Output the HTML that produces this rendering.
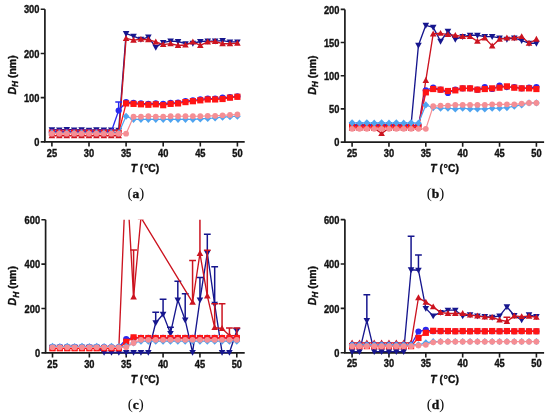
<!DOCTYPE html><html><head><meta charset="utf-8"><style>html,body{margin:0;padding:0;background:#fff;width:550px;height:415px;overflow:hidden}svg{display:block}text{font-family:"Liberation Sans",Arial,sans-serif;font-weight:bold;fill:#111;stroke:#111;stroke-width:0.35px}.cap{font-family:"Liberation Serif","Times New Roman",serif;font-weight:bold}</style></head><body>
<svg width="550" height="415" viewBox="0 0 550 415">
<clipPath id="clipa"><rect x="44.9" y="9.2" width="201.8" height="138.7"/></clipPath>
<path d="M44.9 9.2V142.75 M44.05 141.9H244.7" stroke="#1c1c1c" stroke-width="1.7" fill="none"/>
<text transform="matrix(0.93 0 0 1 39.4 146.1)" font-size="10" text-anchor="end">0</text>
<text transform="matrix(0.93 0 0 1 39.4 101.87)" font-size="10" text-anchor="end">100</text>
<text transform="matrix(0.93 0 0 1 39.4 57.63)" font-size="10" text-anchor="end">200</text>
<text transform="matrix(0.93 0 0 1 39.4 13.4)" font-size="10" text-anchor="end">300</text>
<text transform="matrix(0.93 0 0 1 51.9 156.5)" font-size="10" text-anchor="middle">25</text>
<text transform="matrix(0.93 0 0 1 89 156.5)" font-size="10" text-anchor="middle">30</text>
<text transform="matrix(0.93 0 0 1 126.1 156.5)" font-size="10" text-anchor="middle">35</text>
<text transform="matrix(0.93 0 0 1 163.2 156.5)" font-size="10" text-anchor="middle">40</text>
<text transform="matrix(0.93 0 0 1 200.3 156.5)" font-size="10" text-anchor="middle">45</text>
<text transform="matrix(0.93 0 0 1 237.4 156.5)" font-size="10" text-anchor="middle">50</text>
<path d="M40.7 141.9H44.9 M40.7 97.67H44.9 M40.7 53.43H44.9 M40.7 9.2H44.9 M51.9 141.9V146.5 M89 141.9V146.5 M126.1 141.9V146.5 M163.2 141.9V146.5 M200.3 141.9V146.5 M237.4 141.9V146.5" stroke="#1c1c1c" stroke-width="1.6" fill="none"/>
<g clip-path="url(#clipa)">
<path d="M51.9 129.74 L59.32 129.96 L66.74 129.51 L74.16 129.96 L81.58 129.74 L89 130.18 L96.42 129.74 L103.84 129.96 L111.26 129.96 L118.68 130.18 L126.1 33.53 L133.52 36.18 L140.94 39.28 L148.36 37.07 L155.78 47.24 L163.2 42.38 L170.62 41.05 L178.04 41.49 L185.46 43.7 L192.88 43.26 L200.3 41.49 L207.72 41.05 L215.14 41.05 L222.56 40.61 L229.98 41.93 L237.4 41.93" fill="none" stroke="#16168e" stroke-width="1.35" stroke-linejoin="round"/>
<path d="M51.9 133.14L55.2 127.24L48.6 127.24Z" fill="#16168e"/>
<path d="M59.32 133.36L62.62 127.46L56.02 127.46Z" fill="#16168e"/>
<path d="M66.74 132.91L70.04 127.01L63.44 127.01Z" fill="#16168e"/>
<path d="M74.16 133.36L77.46 127.46L70.86 127.46Z" fill="#16168e"/>
<path d="M81.58 133.14L84.88 127.24L78.28 127.24Z" fill="#16168e"/>
<path d="M89 133.58L92.3 127.68L85.7 127.68Z" fill="#16168e"/>
<path d="M96.42 133.14L99.72 127.24L93.12 127.24Z" fill="#16168e"/>
<path d="M103.84 133.36L107.14 127.46L100.54 127.46Z" fill="#16168e"/>
<path d="M111.26 133.36L114.56 127.46L107.96 127.46Z" fill="#16168e"/>
<path d="M118.68 133.58L121.98 127.68L115.38 127.68Z" fill="#16168e"/>
<path d="M126.1 36.93L129.4 31.03L122.8 31.03Z" fill="#16168e"/>
<path d="M133.52 39.58L136.82 33.68L130.22 33.68Z" fill="#16168e"/>
<path d="M140.94 42.68L144.24 36.78L137.64 36.78Z" fill="#16168e"/>
<path d="M148.36 40.47L151.66 34.57L145.06 34.57Z" fill="#16168e"/>
<path d="M155.78 50.64L159.08 44.74L152.48 44.74Z" fill="#16168e"/>
<path d="M163.2 45.77L166.5 39.88L159.9 39.88Z" fill="#16168e"/>
<path d="M170.62 44.45L173.92 38.55L167.32 38.55Z" fill="#16168e"/>
<path d="M178.04 44.89L181.34 38.99L174.74 38.99Z" fill="#16168e"/>
<path d="M185.46 47.1L188.76 41.2L182.16 41.2Z" fill="#16168e"/>
<path d="M192.88 46.66L196.18 40.76L189.58 40.76Z" fill="#16168e"/>
<path d="M200.3 44.89L203.6 38.99L197 38.99Z" fill="#16168e"/>
<path d="M207.72 44.45L211.02 38.55L204.42 38.55Z" fill="#16168e"/>
<path d="M215.14 44.45L218.44 38.55L211.84 38.55Z" fill="#16168e"/>
<path d="M222.56 44.01L225.86 38.11L219.26 38.11Z" fill="#16168e"/>
<path d="M229.98 45.33L233.28 39.43L226.68 39.43Z" fill="#16168e"/>
<path d="M237.4 45.33L240.7 39.43L234.1 39.43Z" fill="#16168e"/>
<path d="M51.9 135.71 L59.32 135.71 L66.74 135.71 L74.16 135.71 L81.58 135.71 L89 135.71 L96.42 135.71 L103.84 135.71 L111.26 135.71 L118.68 135.71 L126.1 38.39 L133.52 40.16 L140.94 39.28 L148.36 39.72 L155.78 41.93 L163.2 44.59 L170.62 43.7 L178.04 45.47 L185.46 45.03 L192.88 41.93 L200.3 45.47 L207.72 41.93 L215.14 41.49 L222.56 43.7 L229.98 43.7 L237.4 43.26" fill="none" stroke="#cc1420" stroke-width="1.35" stroke-linejoin="round"/>
<path d="M51.9 132.31L55.2 138.21L48.6 138.21Z" fill="#cc1420"/>
<path d="M59.32 132.31L62.62 138.21L56.02 138.21Z" fill="#cc1420"/>
<path d="M66.74 132.31L70.04 138.21L63.44 138.21Z" fill="#cc1420"/>
<path d="M74.16 132.31L77.46 138.21L70.86 138.21Z" fill="#cc1420"/>
<path d="M81.58 132.31L84.88 138.21L78.28 138.21Z" fill="#cc1420"/>
<path d="M89 132.31L92.3 138.21L85.7 138.21Z" fill="#cc1420"/>
<path d="M96.42 132.31L99.72 138.21L93.12 138.21Z" fill="#cc1420"/>
<path d="M103.84 132.31L107.14 138.21L100.54 138.21Z" fill="#cc1420"/>
<path d="M111.26 132.31L114.56 138.21L107.96 138.21Z" fill="#cc1420"/>
<path d="M118.68 132.31L121.98 138.21L115.38 138.21Z" fill="#cc1420"/>
<path d="M126.1 34.99L129.4 40.89L122.8 40.89Z" fill="#cc1420"/>
<path d="M133.52 36.76L136.82 42.66L130.22 42.66Z" fill="#cc1420"/>
<path d="M140.94 35.88L144.24 41.78L137.64 41.78Z" fill="#cc1420"/>
<path d="M148.36 36.32L151.66 42.22L145.06 42.22Z" fill="#cc1420"/>
<path d="M155.78 38.53L159.08 44.43L152.48 44.43Z" fill="#cc1420"/>
<path d="M163.2 41.19L166.5 47.09L159.9 47.09Z" fill="#cc1420"/>
<path d="M170.62 40.3L173.92 46.2L167.32 46.2Z" fill="#cc1420"/>
<path d="M178.04 42.07L181.34 47.97L174.74 47.97Z" fill="#cc1420"/>
<path d="M185.46 41.63L188.76 47.53L182.16 47.53Z" fill="#cc1420"/>
<path d="M192.88 38.53L196.18 44.43L189.58 44.43Z" fill="#cc1420"/>
<path d="M200.3 42.07L203.6 47.97L197 47.97Z" fill="#cc1420"/>
<path d="M207.72 38.53L211.02 44.43L204.42 44.43Z" fill="#cc1420"/>
<path d="M215.14 38.09L218.44 43.99L211.84 43.99Z" fill="#cc1420"/>
<path d="M222.56 40.3L225.86 46.2L219.26 46.2Z" fill="#cc1420"/>
<path d="M229.98 40.3L233.28 46.2L226.68 46.2Z" fill="#cc1420"/>
<path d="M237.4 39.86L240.7 45.76L234.1 45.76Z" fill="#cc1420"/>
<path d="M51.9 131.73 L59.32 131.73 L66.74 131.73 L74.16 131.73 L81.58 131.73 L89 131.73 L96.42 131.73 L103.84 131.73 L111.26 131.73 L118.68 110.49 L126.1 102.09 L133.52 102.97 L140.94 103.42 L148.36 103.86 L155.78 103.42 L163.2 103.86 L170.62 102.97 L178.04 102.53 L185.46 101.21 L192.88 100.32 L200.3 99.44 L207.72 98.55 L215.14 98.55 L222.56 97.67 L229.98 97.22 L237.4 96.34" fill="none" stroke="#2828f0" stroke-width="1.3" stroke-linejoin="round"/>
<path d="M118.68 110.49V102.09 M115.28 102.09H122.08" stroke="#2828f0" stroke-width="1.5" fill="none"/>
<circle cx="51.9" cy="131.73" r="3.1" fill="#2828f0"/>
<circle cx="59.32" cy="131.73" r="3.1" fill="#2828f0"/>
<circle cx="66.74" cy="131.73" r="3.1" fill="#2828f0"/>
<circle cx="74.16" cy="131.73" r="3.1" fill="#2828f0"/>
<circle cx="81.58" cy="131.73" r="3.1" fill="#2828f0"/>
<circle cx="89" cy="131.73" r="3.1" fill="#2828f0"/>
<circle cx="96.42" cy="131.73" r="3.1" fill="#2828f0"/>
<circle cx="103.84" cy="131.73" r="3.1" fill="#2828f0"/>
<circle cx="111.26" cy="131.73" r="3.1" fill="#2828f0"/>
<circle cx="118.68" cy="110.49" r="3.1" fill="#2828f0"/>
<circle cx="126.1" cy="102.09" r="3.1" fill="#2828f0"/>
<circle cx="133.52" cy="102.97" r="3.1" fill="#2828f0"/>
<circle cx="140.94" cy="103.42" r="3.1" fill="#2828f0"/>
<circle cx="148.36" cy="103.86" r="3.1" fill="#2828f0"/>
<circle cx="155.78" cy="103.42" r="3.1" fill="#2828f0"/>
<circle cx="163.2" cy="103.86" r="3.1" fill="#2828f0"/>
<circle cx="170.62" cy="102.97" r="3.1" fill="#2828f0"/>
<circle cx="178.04" cy="102.53" r="3.1" fill="#2828f0"/>
<circle cx="185.46" cy="101.21" r="3.1" fill="#2828f0"/>
<circle cx="192.88" cy="100.32" r="3.1" fill="#2828f0"/>
<circle cx="200.3" cy="99.44" r="3.1" fill="#2828f0"/>
<circle cx="207.72" cy="98.55" r="3.1" fill="#2828f0"/>
<circle cx="215.14" cy="98.55" r="3.1" fill="#2828f0"/>
<circle cx="222.56" cy="97.67" r="3.1" fill="#2828f0"/>
<circle cx="229.98" cy="97.22" r="3.1" fill="#2828f0"/>
<circle cx="237.4" cy="96.34" r="3.1" fill="#2828f0"/>
<path d="M51.9 132.61 L59.32 132.61 L66.74 132.61 L74.16 132.61 L81.58 132.61 L89 132.61 L96.42 132.61 L103.84 132.61 L111.26 132.61 L118.68 132.61 L126.1 103.42 L133.52 103.86 L140.94 104.3 L148.36 104.74 L155.78 104.3 L163.2 105.19 L170.62 103.86 L178.04 103.42 L185.46 102.09 L192.88 101.21 L200.3 100.32 L207.72 99.44 L215.14 99.44 L222.56 98.99 L229.98 97.67 L237.4 96.78" fill="none" stroke="#ff1414" stroke-width="1.3" stroke-linejoin="round"/>
<rect x="48.8" y="129.51" width="6.2" height="6.2" fill="#ff1414"/>
<rect x="56.22" y="129.51" width="6.2" height="6.2" fill="#ff1414"/>
<rect x="63.64" y="129.51" width="6.2" height="6.2" fill="#ff1414"/>
<rect x="71.06" y="129.51" width="6.2" height="6.2" fill="#ff1414"/>
<rect x="78.48" y="129.51" width="6.2" height="6.2" fill="#ff1414"/>
<rect x="85.9" y="129.51" width="6.2" height="6.2" fill="#ff1414"/>
<rect x="93.32" y="129.51" width="6.2" height="6.2" fill="#ff1414"/>
<rect x="100.74" y="129.51" width="6.2" height="6.2" fill="#ff1414"/>
<rect x="108.16" y="129.51" width="6.2" height="6.2" fill="#ff1414"/>
<rect x="115.58" y="129.51" width="6.2" height="6.2" fill="#ff1414"/>
<rect x="123" y="100.32" width="6.2" height="6.2" fill="#ff1414"/>
<rect x="130.42" y="100.76" width="6.2" height="6.2" fill="#ff1414"/>
<rect x="137.84" y="101.2" width="6.2" height="6.2" fill="#ff1414"/>
<rect x="145.26" y="101.64" width="6.2" height="6.2" fill="#ff1414"/>
<rect x="152.68" y="101.2" width="6.2" height="6.2" fill="#ff1414"/>
<rect x="160.1" y="102.09" width="6.2" height="6.2" fill="#ff1414"/>
<rect x="167.52" y="100.76" width="6.2" height="6.2" fill="#ff1414"/>
<rect x="174.94" y="100.32" width="6.2" height="6.2" fill="#ff1414"/>
<rect x="182.36" y="98.99" width="6.2" height="6.2" fill="#ff1414"/>
<rect x="189.78" y="98.11" width="6.2" height="6.2" fill="#ff1414"/>
<rect x="197.2" y="97.22" width="6.2" height="6.2" fill="#ff1414"/>
<rect x="204.62" y="96.34" width="6.2" height="6.2" fill="#ff1414"/>
<rect x="212.04" y="96.34" width="6.2" height="6.2" fill="#ff1414"/>
<rect x="219.46" y="95.89" width="6.2" height="6.2" fill="#ff1414"/>
<rect x="226.88" y="94.57" width="6.2" height="6.2" fill="#ff1414"/>
<rect x="234.3" y="93.68" width="6.2" height="6.2" fill="#ff1414"/>
<path d="M51.9 132.83 L59.32 133.05 L66.74 132.83 L74.16 133.05 L81.58 132.83 L89 133.05 L96.42 132.83 L103.84 133.05 L111.26 132.83 L118.68 133.05 L126.1 116.24 L133.52 119.34 L140.94 119.34 L148.36 119.34 L155.78 119.34 L163.2 119.34 L170.62 119.34 L178.04 119.34 L185.46 119.34 L192.88 119.34 L200.3 118.9 L207.72 118.46 L215.14 118.01 L222.56 117.13 L229.98 116.69 L237.4 116.24" fill="none" stroke="#4ea4f0" stroke-width="1.2" stroke-linejoin="round"/>
<path d="M51.9 129.23L55.3 132.83L51.9 136.43L48.5 132.83Z" fill="#4ea4f0"/>
<path d="M59.32 129.45L62.72 133.05L59.32 136.65L55.92 133.05Z" fill="#4ea4f0"/>
<path d="M66.74 129.23L70.14 132.83L66.74 136.43L63.34 132.83Z" fill="#4ea4f0"/>
<path d="M74.16 129.45L77.56 133.05L74.16 136.65L70.76 133.05Z" fill="#4ea4f0"/>
<path d="M81.58 129.23L84.98 132.83L81.58 136.43L78.18 132.83Z" fill="#4ea4f0"/>
<path d="M89 129.45L92.4 133.05L89 136.65L85.6 133.05Z" fill="#4ea4f0"/>
<path d="M96.42 129.23L99.82 132.83L96.42 136.43L93.02 132.83Z" fill="#4ea4f0"/>
<path d="M103.84 129.45L107.24 133.05L103.84 136.65L100.44 133.05Z" fill="#4ea4f0"/>
<path d="M111.26 129.23L114.66 132.83L111.26 136.43L107.86 132.83Z" fill="#4ea4f0"/>
<path d="M118.68 129.45L122.08 133.05L118.68 136.65L115.28 133.05Z" fill="#4ea4f0"/>
<path d="M126.1 112.64L129.5 116.24L126.1 119.84L122.7 116.24Z" fill="#4ea4f0"/>
<path d="M133.52 115.74L136.92 119.34L133.52 122.94L130.12 119.34Z" fill="#4ea4f0"/>
<path d="M140.94 115.74L144.34 119.34L140.94 122.94L137.54 119.34Z" fill="#4ea4f0"/>
<path d="M148.36 115.74L151.76 119.34L148.36 122.94L144.96 119.34Z" fill="#4ea4f0"/>
<path d="M155.78 115.74L159.18 119.34L155.78 122.94L152.38 119.34Z" fill="#4ea4f0"/>
<path d="M163.2 115.74L166.6 119.34L163.2 122.94L159.8 119.34Z" fill="#4ea4f0"/>
<path d="M170.62 115.74L174.02 119.34L170.62 122.94L167.22 119.34Z" fill="#4ea4f0"/>
<path d="M178.04 115.74L181.44 119.34L178.04 122.94L174.64 119.34Z" fill="#4ea4f0"/>
<path d="M185.46 115.74L188.86 119.34L185.46 122.94L182.06 119.34Z" fill="#4ea4f0"/>
<path d="M192.88 115.74L196.28 119.34L192.88 122.94L189.48 119.34Z" fill="#4ea4f0"/>
<path d="M200.3 115.3L203.7 118.9L200.3 122.5L196.9 118.9Z" fill="#4ea4f0"/>
<path d="M207.72 114.86L211.12 118.46L207.72 122.06L204.32 118.46Z" fill="#4ea4f0"/>
<path d="M215.14 114.41L218.54 118.01L215.14 121.61L211.74 118.01Z" fill="#4ea4f0"/>
<path d="M222.56 113.53L225.96 117.13L222.56 120.73L219.16 117.13Z" fill="#4ea4f0"/>
<path d="M229.98 113.09L233.38 116.69L229.98 120.29L226.58 116.69Z" fill="#4ea4f0"/>
<path d="M237.4 112.64L240.8 116.24L237.4 119.84L234 116.24Z" fill="#4ea4f0"/>
<path d="M51.9 133.72 L59.32 133.72 L66.74 133.72 L74.16 133.72 L81.58 133.72 L89 133.72 L96.42 133.72 L103.84 133.72 L111.26 133.72 L118.68 133.72 L126.1 133.72 L133.52 116.69 L140.94 116.69 L148.36 116.24 L155.78 116.69 L163.2 116.69 L170.62 116.24 L178.04 116.24 L185.46 116.24 L192.88 116.24 L200.3 116.24 L207.72 115.8 L215.14 115.8 L222.56 115.36 L229.98 114.92 L237.4 114.48" fill="none" stroke="#f58e94" stroke-width="1.2" stroke-linejoin="round"/>
<circle cx="51.9" cy="133.72" r="2.9" fill="#f58e94"/>
<circle cx="59.32" cy="133.72" r="2.9" fill="#f58e94"/>
<circle cx="66.74" cy="133.72" r="2.9" fill="#f58e94"/>
<circle cx="74.16" cy="133.72" r="2.9" fill="#f58e94"/>
<circle cx="81.58" cy="133.72" r="2.9" fill="#f58e94"/>
<circle cx="89" cy="133.72" r="2.9" fill="#f58e94"/>
<circle cx="96.42" cy="133.72" r="2.9" fill="#f58e94"/>
<circle cx="103.84" cy="133.72" r="2.9" fill="#f58e94"/>
<circle cx="111.26" cy="133.72" r="2.9" fill="#f58e94"/>
<circle cx="118.68" cy="133.72" r="2.9" fill="#f58e94"/>
<circle cx="126.1" cy="133.72" r="2.9" fill="#f58e94"/>
<circle cx="133.52" cy="116.69" r="2.9" fill="#f58e94"/>
<circle cx="140.94" cy="116.69" r="2.9" fill="#f58e94"/>
<circle cx="148.36" cy="116.24" r="2.9" fill="#f58e94"/>
<circle cx="155.78" cy="116.69" r="2.9" fill="#f58e94"/>
<circle cx="163.2" cy="116.69" r="2.9" fill="#f58e94"/>
<circle cx="170.62" cy="116.24" r="2.9" fill="#f58e94"/>
<circle cx="178.04" cy="116.24" r="2.9" fill="#f58e94"/>
<circle cx="185.46" cy="116.24" r="2.9" fill="#f58e94"/>
<circle cx="192.88" cy="116.24" r="2.9" fill="#f58e94"/>
<circle cx="200.3" cy="116.24" r="2.9" fill="#f58e94"/>
<circle cx="207.72" cy="115.8" r="2.9" fill="#f58e94"/>
<circle cx="215.14" cy="115.8" r="2.9" fill="#f58e94"/>
<circle cx="222.56" cy="115.36" r="2.9" fill="#f58e94"/>
<circle cx="229.98" cy="114.92" r="2.9" fill="#f58e94"/>
<circle cx="237.4" cy="114.48" r="2.9" fill="#f58e94"/>
</g>
<text x="144.95" y="171.9" font-size="10.3" text-anchor="middle"><tspan font-style="italic">T</tspan> (<tspan dx="0.7" font-size="11">°</tspan>C)</text>
<text transform="translate(15.7 74.95) rotate(-90)" font-size="10.5" text-anchor="middle"><tspan font-style="italic">D</tspan><tspan font-style="italic" font-size="8.3" dy="2.7">H</tspan><tspan dy="-2.7"> (nm)</tspan></text>
<text class="cap" x="135.85" y="197.7" font-size="13.5" text-anchor="middle"><tspan font-weight="normal" stroke-width="0" font-size="15">(</tspan>a<tspan font-weight="normal" stroke-width="0" font-size="15">)</tspan></text>
<clipPath id="clipb"><rect x="344.9" y="9.4" width="201.2" height="138.7"/></clipPath>
<path d="M344.9 9.4V142.95 M344.05 142.1H544.1" stroke="#1c1c1c" stroke-width="1.7" fill="none"/>
<text transform="matrix(0.93 0 0 1 339.4 146.3)" font-size="10" text-anchor="end">0</text>
<text transform="matrix(0.93 0 0 1 339.4 113.12)" font-size="10" text-anchor="end">50</text>
<text transform="matrix(0.93 0 0 1 339.4 79.95)" font-size="10" text-anchor="end">100</text>
<text transform="matrix(0.93 0 0 1 339.4 46.77)" font-size="10" text-anchor="end">150</text>
<text transform="matrix(0.93 0 0 1 339.4 13.6)" font-size="10" text-anchor="end">200</text>
<text transform="matrix(0.93 0 0 1 352.1 156.7)" font-size="10" text-anchor="middle">25</text>
<text transform="matrix(0.93 0 0 1 388.96 156.7)" font-size="10" text-anchor="middle">30</text>
<text transform="matrix(0.93 0 0 1 425.82 156.7)" font-size="10" text-anchor="middle">35</text>
<text transform="matrix(0.93 0 0 1 462.68 156.7)" font-size="10" text-anchor="middle">40</text>
<text transform="matrix(0.93 0 0 1 499.54 156.7)" font-size="10" text-anchor="middle">45</text>
<text transform="matrix(0.93 0 0 1 536.4 156.7)" font-size="10" text-anchor="middle">50</text>
<path d="M340.7 142.1H344.9 M340.7 108.92H344.9 M340.7 75.75H344.9 M340.7 42.57H344.9 M340.7 9.4H344.9 M352.1 142.1V146.7 M388.96 142.1V146.7 M425.82 142.1V146.7 M462.68 142.1V146.7 M499.54 142.1V146.7 M536.4 142.1V146.7" stroke="#1c1c1c" stroke-width="1.6" fill="none"/>
<g clip-path="url(#clipb)">
<path d="M352.1 124.85 L359.47 124.85 L366.84 124.85 L374.22 124.85 L381.59 124.85 L388.96 124.85 L396.33 124.85 L403.7 124.85 L411.08 124.85 L418.45 45.23 L425.82 25.32 L433.19 27.31 L440.56 41.25 L447.94 31.3 L455.31 39.26 L462.68 36.6 L470.05 35.28 L477.42 35.28 L484.8 36.6 L492.17 36.6 L499.54 37.93 L506.91 39.26 L514.28 37.93 L521.66 40.58 L529.03 43.24 L536.4 43.24" fill="none" stroke="#16168e" stroke-width="1.35" stroke-linejoin="round"/>
<path d="M352.1 128.25L355.4 122.35L348.8 122.35Z" fill="#16168e"/>
<path d="M359.47 128.25L362.77 122.35L356.17 122.35Z" fill="#16168e"/>
<path d="M366.84 128.25L370.14 122.35L363.54 122.35Z" fill="#16168e"/>
<path d="M374.22 128.25L377.52 122.35L370.92 122.35Z" fill="#16168e"/>
<path d="M381.59 128.25L384.89 122.35L378.29 122.35Z" fill="#16168e"/>
<path d="M388.96 128.25L392.26 122.35L385.66 122.35Z" fill="#16168e"/>
<path d="M396.33 128.25L399.63 122.35L393.03 122.35Z" fill="#16168e"/>
<path d="M403.7 128.25L407 122.35L400.4 122.35Z" fill="#16168e"/>
<path d="M411.08 128.25L414.38 122.35L407.78 122.35Z" fill="#16168e"/>
<path d="M418.45 48.63L421.75 42.73L415.15 42.73Z" fill="#16168e"/>
<path d="M425.82 28.72L429.12 22.82L422.52 22.82Z" fill="#16168e"/>
<path d="M433.19 30.71L436.49 24.81L429.89 24.81Z" fill="#16168e"/>
<path d="M440.56 44.65L443.86 38.75L437.26 38.75Z" fill="#16168e"/>
<path d="M447.94 34.7L451.24 28.8L444.64 28.8Z" fill="#16168e"/>
<path d="M455.31 42.66L458.61 36.76L452.01 36.76Z" fill="#16168e"/>
<path d="M462.68 40L465.98 34.1L459.38 34.1Z" fill="#16168e"/>
<path d="M470.05 38.68L473.35 32.78L466.75 32.78Z" fill="#16168e"/>
<path d="M477.42 38.68L480.72 32.78L474.12 32.78Z" fill="#16168e"/>
<path d="M484.8 40L488.1 34.1L481.5 34.1Z" fill="#16168e"/>
<path d="M492.17 40L495.47 34.1L488.87 34.1Z" fill="#16168e"/>
<path d="M499.54 41.33L502.84 35.43L496.24 35.43Z" fill="#16168e"/>
<path d="M506.91 42.66L510.21 36.76L503.61 36.76Z" fill="#16168e"/>
<path d="M514.28 41.33L517.58 35.43L510.98 35.43Z" fill="#16168e"/>
<path d="M521.66 43.98L524.96 38.08L518.36 38.08Z" fill="#16168e"/>
<path d="M529.03 46.64L532.33 40.74L525.73 40.74Z" fill="#16168e"/>
<path d="M536.4 46.64L539.7 40.74L533.1 40.74Z" fill="#16168e"/>
<path d="M352.1 128.17 L359.47 128.17 L366.84 128.17 L374.22 128.17 L381.59 133.47 L388.96 128.17 L396.33 128.17 L403.7 128.17 L411.08 128.17 L418.45 127.5 L425.82 80.39 L433.19 33.95 L440.56 33.29 L447.94 34.61 L455.31 35.28 L462.68 36.6 L470.05 36.6 L477.42 41.25 L484.8 37.93 L492.17 45.89 L499.54 39.26 L506.91 37.93 L514.28 37.93 L521.66 36.6 L529.03 43.24 L536.4 39.26" fill="none" stroke="#cc1420" stroke-width="1.35" stroke-linejoin="round"/>
<path d="M352.1 124.77L355.4 130.67L348.8 130.67Z" fill="#cc1420"/>
<path d="M359.47 124.77L362.77 130.67L356.17 130.67Z" fill="#cc1420"/>
<path d="M366.84 124.77L370.14 130.67L363.54 130.67Z" fill="#cc1420"/>
<path d="M374.22 124.77L377.52 130.67L370.92 130.67Z" fill="#cc1420"/>
<path d="M381.59 130.07L384.89 135.97L378.29 135.97Z" fill="#cc1420"/>
<path d="M388.96 124.77L392.26 130.67L385.66 130.67Z" fill="#cc1420"/>
<path d="M396.33 124.77L399.63 130.67L393.03 130.67Z" fill="#cc1420"/>
<path d="M403.7 124.77L407 130.67L400.4 130.67Z" fill="#cc1420"/>
<path d="M411.08 124.77L414.38 130.67L407.78 130.67Z" fill="#cc1420"/>
<path d="M418.45 124.1L421.75 130L415.15 130Z" fill="#cc1420"/>
<path d="M425.82 76.99L429.12 82.89L422.52 82.89Z" fill="#cc1420"/>
<path d="M433.19 30.55L436.49 36.45L429.89 36.45Z" fill="#cc1420"/>
<path d="M440.56 29.89L443.86 35.79L437.26 35.79Z" fill="#cc1420"/>
<path d="M447.94 31.21L451.24 37.11L444.64 37.11Z" fill="#cc1420"/>
<path d="M455.31 31.88L458.61 37.78L452.01 37.78Z" fill="#cc1420"/>
<path d="M462.68 33.2L465.98 39.1L459.38 39.1Z" fill="#cc1420"/>
<path d="M470.05 33.2L473.35 39.1L466.75 39.1Z" fill="#cc1420"/>
<path d="M477.42 37.85L480.72 43.75L474.12 43.75Z" fill="#cc1420"/>
<path d="M484.8 34.53L488.1 40.43L481.5 40.43Z" fill="#cc1420"/>
<path d="M492.17 42.49L495.47 48.39L488.87 48.39Z" fill="#cc1420"/>
<path d="M499.54 35.86L502.84 41.76L496.24 41.76Z" fill="#cc1420"/>
<path d="M506.91 34.53L510.21 40.43L503.61 40.43Z" fill="#cc1420"/>
<path d="M514.28 34.53L517.58 40.43L510.98 40.43Z" fill="#cc1420"/>
<path d="M521.66 33.2L524.96 39.1L518.36 39.1Z" fill="#cc1420"/>
<path d="M529.03 39.84L532.33 45.74L525.73 45.74Z" fill="#cc1420"/>
<path d="M536.4 35.86L539.7 41.76L533.1 41.76Z" fill="#cc1420"/>
<path d="M352.1 125.51 L359.47 125.51 L366.84 125.51 L374.22 125.51 L381.59 125.51 L388.96 125.51 L396.33 125.51 L403.7 125.51 L411.08 125.51 L418.45 125.51 L425.82 90.35 L433.19 87.69 L440.56 89.68 L447.94 93 L455.31 89.68 L462.68 88.36 L470.05 88.36 L477.42 89.68 L484.8 87.03 L492.17 89.02 L499.54 85.7 L506.91 87.03 L514.28 87.03 L521.66 88.36 L529.03 87.69 L536.4 87.03" fill="none" stroke="#2828f0" stroke-width="1.3" stroke-linejoin="round"/>
<circle cx="352.1" cy="125.51" r="3.1" fill="#2828f0"/>
<circle cx="359.47" cy="125.51" r="3.1" fill="#2828f0"/>
<circle cx="366.84" cy="125.51" r="3.1" fill="#2828f0"/>
<circle cx="374.22" cy="125.51" r="3.1" fill="#2828f0"/>
<circle cx="381.59" cy="125.51" r="3.1" fill="#2828f0"/>
<circle cx="388.96" cy="125.51" r="3.1" fill="#2828f0"/>
<circle cx="396.33" cy="125.51" r="3.1" fill="#2828f0"/>
<circle cx="403.7" cy="125.51" r="3.1" fill="#2828f0"/>
<circle cx="411.08" cy="125.51" r="3.1" fill="#2828f0"/>
<circle cx="418.45" cy="125.51" r="3.1" fill="#2828f0"/>
<circle cx="425.82" cy="90.35" r="3.1" fill="#2828f0"/>
<circle cx="433.19" cy="87.69" r="3.1" fill="#2828f0"/>
<circle cx="440.56" cy="89.68" r="3.1" fill="#2828f0"/>
<circle cx="447.94" cy="93" r="3.1" fill="#2828f0"/>
<circle cx="455.31" cy="89.68" r="3.1" fill="#2828f0"/>
<circle cx="462.68" cy="88.36" r="3.1" fill="#2828f0"/>
<circle cx="470.05" cy="88.36" r="3.1" fill="#2828f0"/>
<circle cx="477.42" cy="89.68" r="3.1" fill="#2828f0"/>
<circle cx="484.8" cy="87.03" r="3.1" fill="#2828f0"/>
<circle cx="492.17" cy="89.02" r="3.1" fill="#2828f0"/>
<circle cx="499.54" cy="85.7" r="3.1" fill="#2828f0"/>
<circle cx="506.91" cy="87.03" r="3.1" fill="#2828f0"/>
<circle cx="514.28" cy="87.03" r="3.1" fill="#2828f0"/>
<circle cx="521.66" cy="88.36" r="3.1" fill="#2828f0"/>
<circle cx="529.03" cy="87.69" r="3.1" fill="#2828f0"/>
<circle cx="536.4" cy="87.03" r="3.1" fill="#2828f0"/>
<path d="M352.1 126.84 L359.47 126.84 L366.84 126.84 L374.22 126.84 L381.59 126.84 L388.96 126.84 L396.33 126.84 L403.7 126.84 L411.08 126.84 L418.45 126.84 L425.82 92.34 L433.19 89.02 L440.56 89.68 L447.94 91.01 L455.31 90.35 L462.68 88.36 L470.05 88.36 L477.42 89.68 L484.8 89.02 L492.17 88.36 L499.54 87.69 L506.91 86.37 L514.28 87.69 L521.66 88.36 L529.03 88.36 L536.4 89.02" fill="none" stroke="#ff1414" stroke-width="1.3" stroke-linejoin="round"/>
<rect x="349" y="123.74" width="6.2" height="6.2" fill="#ff1414"/>
<rect x="356.37" y="123.74" width="6.2" height="6.2" fill="#ff1414"/>
<rect x="363.74" y="123.74" width="6.2" height="6.2" fill="#ff1414"/>
<rect x="371.12" y="123.74" width="6.2" height="6.2" fill="#ff1414"/>
<rect x="378.49" y="123.74" width="6.2" height="6.2" fill="#ff1414"/>
<rect x="385.86" y="123.74" width="6.2" height="6.2" fill="#ff1414"/>
<rect x="393.23" y="123.74" width="6.2" height="6.2" fill="#ff1414"/>
<rect x="400.6" y="123.74" width="6.2" height="6.2" fill="#ff1414"/>
<rect x="407.98" y="123.74" width="6.2" height="6.2" fill="#ff1414"/>
<rect x="415.35" y="123.74" width="6.2" height="6.2" fill="#ff1414"/>
<rect x="422.72" y="89.24" width="6.2" height="6.2" fill="#ff1414"/>
<rect x="430.09" y="85.92" width="6.2" height="6.2" fill="#ff1414"/>
<rect x="437.46" y="86.58" width="6.2" height="6.2" fill="#ff1414"/>
<rect x="444.84" y="87.91" width="6.2" height="6.2" fill="#ff1414"/>
<rect x="452.21" y="87.25" width="6.2" height="6.2" fill="#ff1414"/>
<rect x="459.58" y="85.26" width="6.2" height="6.2" fill="#ff1414"/>
<rect x="466.95" y="85.26" width="6.2" height="6.2" fill="#ff1414"/>
<rect x="474.32" y="86.58" width="6.2" height="6.2" fill="#ff1414"/>
<rect x="481.7" y="85.92" width="6.2" height="6.2" fill="#ff1414"/>
<rect x="489.07" y="85.26" width="6.2" height="6.2" fill="#ff1414"/>
<rect x="496.44" y="84.59" width="6.2" height="6.2" fill="#ff1414"/>
<rect x="503.81" y="83.27" width="6.2" height="6.2" fill="#ff1414"/>
<rect x="511.18" y="84.59" width="6.2" height="6.2" fill="#ff1414"/>
<rect x="518.56" y="85.26" width="6.2" height="6.2" fill="#ff1414"/>
<rect x="525.93" y="85.26" width="6.2" height="6.2" fill="#ff1414"/>
<rect x="533.3" y="85.92" width="6.2" height="6.2" fill="#ff1414"/>
<path d="M352.1 122.86 L359.47 123.19 L366.84 122.86 L374.22 123.19 L381.59 122.86 L388.96 123.19 L396.33 122.86 L403.7 123.19 L411.08 122.86 L418.45 123.19 L425.82 104.94 L433.19 107.6 L440.56 108.26 L447.94 108.26 L455.31 108.92 L462.68 108.26 L470.05 108.92 L477.42 108.92 L484.8 108.92 L492.17 108.26 L499.54 108.26 L506.91 107.6 L514.28 106.27 L521.66 104.94 L529.03 102.95 L536.4 102.95" fill="none" stroke="#4ea4f0" stroke-width="1.2" stroke-linejoin="round"/>
<path d="M352.1 119.26L355.5 122.86L352.1 126.46L348.7 122.86Z" fill="#4ea4f0"/>
<path d="M359.47 119.59L362.87 123.19L359.47 126.79L356.07 123.19Z" fill="#4ea4f0"/>
<path d="M366.84 119.26L370.24 122.86L366.84 126.46L363.44 122.86Z" fill="#4ea4f0"/>
<path d="M374.22 119.59L377.62 123.19L374.22 126.79L370.82 123.19Z" fill="#4ea4f0"/>
<path d="M381.59 119.26L384.99 122.86L381.59 126.46L378.19 122.86Z" fill="#4ea4f0"/>
<path d="M388.96 119.59L392.36 123.19L388.96 126.79L385.56 123.19Z" fill="#4ea4f0"/>
<path d="M396.33 119.26L399.73 122.86L396.33 126.46L392.93 122.86Z" fill="#4ea4f0"/>
<path d="M403.7 119.59L407.1 123.19L403.7 126.79L400.3 123.19Z" fill="#4ea4f0"/>
<path d="M411.08 119.26L414.48 122.86L411.08 126.46L407.68 122.86Z" fill="#4ea4f0"/>
<path d="M418.45 119.59L421.85 123.19L418.45 126.79L415.05 123.19Z" fill="#4ea4f0"/>
<path d="M425.82 101.34L429.22 104.94L425.82 108.54L422.42 104.94Z" fill="#4ea4f0"/>
<path d="M433.19 104L436.59 107.6L433.19 111.2L429.79 107.6Z" fill="#4ea4f0"/>
<path d="M440.56 104.66L443.96 108.26L440.56 111.86L437.16 108.26Z" fill="#4ea4f0"/>
<path d="M447.94 104.66L451.34 108.26L447.94 111.86L444.54 108.26Z" fill="#4ea4f0"/>
<path d="M455.31 105.33L458.71 108.92L455.31 112.52L451.91 108.92Z" fill="#4ea4f0"/>
<path d="M462.68 104.66L466.08 108.26L462.68 111.86L459.28 108.26Z" fill="#4ea4f0"/>
<path d="M470.05 105.33L473.45 108.92L470.05 112.52L466.65 108.92Z" fill="#4ea4f0"/>
<path d="M477.42 105.33L480.82 108.92L477.42 112.52L474.02 108.92Z" fill="#4ea4f0"/>
<path d="M484.8 105.33L488.2 108.92L484.8 112.52L481.4 108.92Z" fill="#4ea4f0"/>
<path d="M492.17 104.66L495.57 108.26L492.17 111.86L488.77 108.26Z" fill="#4ea4f0"/>
<path d="M499.54 104.66L502.94 108.26L499.54 111.86L496.14 108.26Z" fill="#4ea4f0"/>
<path d="M506.91 104L510.31 107.6L506.91 111.2L503.51 107.6Z" fill="#4ea4f0"/>
<path d="M514.28 102.67L517.68 106.27L514.28 109.87L510.88 106.27Z" fill="#4ea4f0"/>
<path d="M521.66 101.34L525.06 104.94L521.66 108.54L518.26 104.94Z" fill="#4ea4f0"/>
<path d="M529.03 99.35L532.43 102.95L529.03 106.55L525.63 102.95Z" fill="#4ea4f0"/>
<path d="M536.4 99.35L539.8 102.95L536.4 106.55L533 102.95Z" fill="#4ea4f0"/>
<path d="M352.1 128.83 L359.47 128.83 L366.84 128.83 L374.22 128.83 L381.59 128.83 L388.96 128.83 L396.33 128.83 L403.7 128.83 L411.08 128.83 L418.45 128.83 L425.82 128.83 L433.19 106.27 L440.56 105.61 L447.94 105.61 L455.31 104.94 L462.68 104.94 L470.05 104.94 L477.42 104.94 L484.8 104.94 L492.17 104.28 L499.54 104.28 L506.91 104.28 L514.28 104.28 L521.66 103.62 L529.03 102.95 L536.4 102.95" fill="none" stroke="#f58e94" stroke-width="1.2" stroke-linejoin="round"/>
<circle cx="352.1" cy="128.83" r="2.9" fill="#f58e94"/>
<circle cx="359.47" cy="128.83" r="2.9" fill="#f58e94"/>
<circle cx="366.84" cy="128.83" r="2.9" fill="#f58e94"/>
<circle cx="374.22" cy="128.83" r="2.9" fill="#f58e94"/>
<circle cx="381.59" cy="128.83" r="2.9" fill="#f58e94"/>
<circle cx="388.96" cy="128.83" r="2.9" fill="#f58e94"/>
<circle cx="396.33" cy="128.83" r="2.9" fill="#f58e94"/>
<circle cx="403.7" cy="128.83" r="2.9" fill="#f58e94"/>
<circle cx="411.08" cy="128.83" r="2.9" fill="#f58e94"/>
<circle cx="418.45" cy="128.83" r="2.9" fill="#f58e94"/>
<circle cx="425.82" cy="128.83" r="2.9" fill="#f58e94"/>
<circle cx="433.19" cy="106.27" r="2.9" fill="#f58e94"/>
<circle cx="440.56" cy="105.61" r="2.9" fill="#f58e94"/>
<circle cx="447.94" cy="105.61" r="2.9" fill="#f58e94"/>
<circle cx="455.31" cy="104.94" r="2.9" fill="#f58e94"/>
<circle cx="462.68" cy="104.94" r="2.9" fill="#f58e94"/>
<circle cx="470.05" cy="104.94" r="2.9" fill="#f58e94"/>
<circle cx="477.42" cy="104.94" r="2.9" fill="#f58e94"/>
<circle cx="484.8" cy="104.94" r="2.9" fill="#f58e94"/>
<circle cx="492.17" cy="104.28" r="2.9" fill="#f58e94"/>
<circle cx="499.54" cy="104.28" r="2.9" fill="#f58e94"/>
<circle cx="506.91" cy="104.28" r="2.9" fill="#f58e94"/>
<circle cx="514.28" cy="104.28" r="2.9" fill="#f58e94"/>
<circle cx="521.66" cy="103.62" r="2.9" fill="#f58e94"/>
<circle cx="529.03" cy="102.95" r="2.9" fill="#f58e94"/>
<circle cx="536.4" cy="102.95" r="2.9" fill="#f58e94"/>
</g>
<text x="444.55" y="172.1" font-size="10.3" text-anchor="middle"><tspan font-style="italic">T</tspan> (<tspan dx="0.7" font-size="11">°</tspan>C)</text>
<text transform="translate(315.7 75.15) rotate(-90)" font-size="10.5" text-anchor="middle"><tspan font-style="italic">D</tspan><tspan font-style="italic" font-size="8.3" dy="2.7">H</tspan><tspan dy="-2.7"> (nm)</tspan></text>
<text class="cap" x="435.45" y="197.9" font-size="13.5" text-anchor="middle"><tspan font-weight="normal" stroke-width="0" font-size="15">(</tspan>b<tspan font-weight="normal" stroke-width="0" font-size="15">)</tspan></text>
<clipPath id="clipc"><rect x="45.6" y="219.8" width="201.1" height="139.1"/></clipPath>
<path d="M45.6 219.8V353.75 M44.75 352.9H244.7" stroke="#1c1c1c" stroke-width="1.7" fill="none"/>
<text transform="matrix(0.93 0 0 1 40.1 357.1)" font-size="10" text-anchor="end">0</text>
<text transform="matrix(0.93 0 0 1 40.1 312.73)" font-size="10" text-anchor="end">200</text>
<text transform="matrix(0.93 0 0 1 40.1 268.37)" font-size="10" text-anchor="end">400</text>
<text transform="matrix(0.93 0 0 1 40.1 224)" font-size="10" text-anchor="end">600</text>
<text transform="matrix(0.93 0 0 1 52.5 367.5)" font-size="10" text-anchor="middle">25</text>
<text transform="matrix(0.93 0 0 1 89.36 367.5)" font-size="10" text-anchor="middle">30</text>
<text transform="matrix(0.93 0 0 1 126.22 367.5)" font-size="10" text-anchor="middle">35</text>
<text transform="matrix(0.93 0 0 1 163.08 367.5)" font-size="10" text-anchor="middle">40</text>
<text transform="matrix(0.93 0 0 1 199.94 367.5)" font-size="10" text-anchor="middle">45</text>
<text transform="matrix(0.93 0 0 1 236.8 367.5)" font-size="10" text-anchor="middle">50</text>
<path d="M41.4 352.9H45.6 M41.4 308.53H45.6 M41.4 264.17H45.6 M41.4 219.8H45.6 M52.5 352.9V357.5 M89.36 352.9V357.5 M126.22 352.9V357.5 M163.08 352.9V357.5 M199.94 352.9V357.5 M236.8 352.9V357.5" stroke="#1c1c1c" stroke-width="1.6" fill="none"/>
<g clip-path="url(#clipc)">
<path d="M52.5 347.35 L59.87 347.35 L67.24 347.35 L74.62 347.35 L81.99 347.35 L89.36 347.35 L96.73 347.35 L104.1 352.46 L111.48 352.46 L118.85 352.46 L126.22 352.46 L133.59 352.46 L140.96 352.46 L148.34 352.46 L155.71 322.73 L163.08 314.3 L170.45 333.38 L177.82 300.1 L185.2 320.07 L192.57 352.46 L199.94 299.88 L207.31 253.07 L214.68 304.32 L222.06 352.46 L229.43 352.46 L236.8 330.72" fill="none" stroke="#16168e" stroke-width="1.35" stroke-linejoin="round"/>
<path d="M155.71 322.73V312.3 M152.31 312.3H159.11" stroke="#16168e" stroke-width="1.5" fill="none"/>
<path d="M163.08 314.3V299.22 M159.68 299.22H166.48" stroke="#16168e" stroke-width="1.5" fill="none"/>
<path d="M170.45 333.38V327.17 M167.05 327.17H173.85" stroke="#16168e" stroke-width="1.5" fill="none"/>
<path d="M177.82 300.1V281.25 M174.42 281.25H181.22" stroke="#16168e" stroke-width="1.5" fill="none"/>
<path d="M185.2 320.07V293.67 M181.8 293.67H188.6" stroke="#16168e" stroke-width="1.5" fill="none"/>
<path d="M199.94 299.88V277.48 M196.54 277.48H203.34" stroke="#16168e" stroke-width="1.5" fill="none"/>
<path d="M207.31 253.07V234.22 M203.91 234.22H210.71" stroke="#16168e" stroke-width="1.5" fill="none"/>
<path d="M214.68 304.32V266.83 M211.28 266.83H218.08" stroke="#16168e" stroke-width="1.5" fill="none"/>
<path d="M236.8 330.72V328.5 M233.4 328.5H240.2" stroke="#16168e" stroke-width="1.5" fill="none"/>
<path d="M52.5 350.75L55.8 344.85L49.2 344.85Z" fill="#16168e"/>
<path d="M59.87 350.75L63.17 344.85L56.57 344.85Z" fill="#16168e"/>
<path d="M67.24 350.75L70.54 344.85L63.94 344.85Z" fill="#16168e"/>
<path d="M74.62 350.75L77.92 344.85L71.32 344.85Z" fill="#16168e"/>
<path d="M81.99 350.75L85.29 344.85L78.69 344.85Z" fill="#16168e"/>
<path d="M89.36 350.75L92.66 344.85L86.06 344.85Z" fill="#16168e"/>
<path d="M96.73 350.75L100.03 344.85L93.43 344.85Z" fill="#16168e"/>
<path d="M104.1 355.86L107.4 349.96L100.8 349.96Z" fill="#16168e"/>
<path d="M111.48 355.86L114.78 349.96L108.18 349.96Z" fill="#16168e"/>
<path d="M118.85 355.86L122.15 349.96L115.55 349.96Z" fill="#16168e"/>
<path d="M126.22 355.86L129.52 349.96L122.92 349.96Z" fill="#16168e"/>
<path d="M133.59 355.86L136.89 349.96L130.29 349.96Z" fill="#16168e"/>
<path d="M140.96 355.86L144.26 349.96L137.66 349.96Z" fill="#16168e"/>
<path d="M148.34 355.86L151.64 349.96L145.04 349.96Z" fill="#16168e"/>
<path d="M155.71 326.13L159.01 320.23L152.41 320.23Z" fill="#16168e"/>
<path d="M163.08 317.7L166.38 311.8L159.78 311.8Z" fill="#16168e"/>
<path d="M170.45 336.78L173.75 330.88L167.15 330.88Z" fill="#16168e"/>
<path d="M177.82 303.5L181.12 297.6L174.52 297.6Z" fill="#16168e"/>
<path d="M185.2 323.47L188.5 317.57L181.9 317.57Z" fill="#16168e"/>
<path d="M192.57 355.86L195.87 349.96L189.27 349.96Z" fill="#16168e"/>
<path d="M199.94 303.28L203.24 297.38L196.64 297.38Z" fill="#16168e"/>
<path d="M207.31 256.47L210.61 250.57L204.01 250.57Z" fill="#16168e"/>
<path d="M214.68 307.72L217.98 301.82L211.38 301.82Z" fill="#16168e"/>
<path d="M222.06 355.86L225.36 349.96L218.76 349.96Z" fill="#16168e"/>
<path d="M229.43 355.86L232.73 349.96L226.13 349.96Z" fill="#16168e"/>
<path d="M236.8 334.12L240.1 328.22L233.5 328.22Z" fill="#16168e"/>
<path d="M52.5 348.02 L59.87 348.02 L67.24 348.02 L74.62 348.02 L81.99 348.02 L89.36 348.02 L96.73 348.02 L104.1 348.02 L111.48 348.02 L118.85 348.02 L126.22 168.78 L133.59 297 L140.96 217.58 L192.57 302.32 L199.94 253.52 L207.31 295.89 L214.68 327.61 L222.06 328.5 L229.43 335.6 L236.8 335.6" fill="none" stroke="#cc1420" stroke-width="1.35" stroke-linejoin="round"/>
<path d="M133.59 297V249.97 M130.19 249.97H136.99" stroke="#cc1420" stroke-width="1.5" fill="none"/>
<path d="M192.57 302.32V260.4 M189.17 260.4H195.97" stroke="#cc1420" stroke-width="1.5" fill="none"/>
<path d="M199.94 253.52V193.18 M196.54 193.18H203.34" stroke="#cc1420" stroke-width="1.5" fill="none"/>
<path d="M207.31 295.89V250.19 M203.91 250.19H210.71" stroke="#cc1420" stroke-width="1.5" fill="none"/>
<path d="M214.68 327.61V303.65 M211.28 303.65H218.08" stroke="#cc1420" stroke-width="1.5" fill="none"/>
<path d="M222.06 328.5V303.65 M218.66 303.65H225.46" stroke="#cc1420" stroke-width="1.5" fill="none"/>
<path d="M229.43 335.6V328.05 M226.03 328.05H232.83" stroke="#cc1420" stroke-width="1.5" fill="none"/>
<path d="M236.8 335.6V328.05 M233.4 328.05H240.2" stroke="#cc1420" stroke-width="1.5" fill="none"/>
<path d="M52.5 344.62L55.8 350.52L49.2 350.52Z" fill="#cc1420"/>
<path d="M59.87 344.62L63.17 350.52L56.57 350.52Z" fill="#cc1420"/>
<path d="M67.24 344.62L70.54 350.52L63.94 350.52Z" fill="#cc1420"/>
<path d="M74.62 344.62L77.92 350.52L71.32 350.52Z" fill="#cc1420"/>
<path d="M81.99 344.62L85.29 350.52L78.69 350.52Z" fill="#cc1420"/>
<path d="M89.36 344.62L92.66 350.52L86.06 350.52Z" fill="#cc1420"/>
<path d="M96.73 344.62L100.03 350.52L93.43 350.52Z" fill="#cc1420"/>
<path d="M104.1 344.62L107.4 350.52L100.8 350.52Z" fill="#cc1420"/>
<path d="M111.48 344.62L114.78 350.52L108.18 350.52Z" fill="#cc1420"/>
<path d="M118.85 344.62L122.15 350.52L115.55 350.52Z" fill="#cc1420"/>
<path d="M126.22 165.38L129.52 171.28L122.92 171.28Z" fill="#cc1420"/>
<path d="M133.59 293.6L136.89 299.5L130.29 299.5Z" fill="#cc1420"/>
<path d="M140.96 214.18L144.26 220.08L137.66 220.08Z" fill="#cc1420"/>
<path d="M192.57 298.92L195.87 304.82L189.27 304.82Z" fill="#cc1420"/>
<path d="M199.94 250.12L203.24 256.02L196.64 256.02Z" fill="#cc1420"/>
<path d="M207.31 292.49L210.61 298.39L204.01 298.39Z" fill="#cc1420"/>
<path d="M214.68 324.21L217.98 330.11L211.38 330.11Z" fill="#cc1420"/>
<path d="M222.06 325.1L225.36 331L218.76 331Z" fill="#cc1420"/>
<path d="M229.43 332.2L232.73 338.1L226.13 338.1Z" fill="#cc1420"/>
<path d="M236.8 332.2L240.1 338.1L233.5 338.1Z" fill="#cc1420"/>
<path d="M52.5 347.13 L59.87 347.13 L67.24 347.13 L74.62 347.13 L81.99 347.13 L89.36 347.13 L96.73 347.13 L104.1 347.13 L111.48 347.13 L118.85 347.13 L126.22 339.15 L133.59 337.82 L140.96 337.82 L148.34 337.82 L155.71 337.82 L163.08 337.82 L170.45 337.82 L177.82 337.82 L185.2 337.82 L192.57 337.82 L199.94 337.82 L207.31 337.82 L214.68 337.82 L222.06 337.82 L229.43 337.82 L236.8 337.82" fill="none" stroke="#2828f0" stroke-width="1.3" stroke-linejoin="round"/>
<circle cx="52.5" cy="347.13" r="3.1" fill="#2828f0"/>
<circle cx="59.87" cy="347.13" r="3.1" fill="#2828f0"/>
<circle cx="67.24" cy="347.13" r="3.1" fill="#2828f0"/>
<circle cx="74.62" cy="347.13" r="3.1" fill="#2828f0"/>
<circle cx="81.99" cy="347.13" r="3.1" fill="#2828f0"/>
<circle cx="89.36" cy="347.13" r="3.1" fill="#2828f0"/>
<circle cx="96.73" cy="347.13" r="3.1" fill="#2828f0"/>
<circle cx="104.1" cy="347.13" r="3.1" fill="#2828f0"/>
<circle cx="111.48" cy="347.13" r="3.1" fill="#2828f0"/>
<circle cx="118.85" cy="347.13" r="3.1" fill="#2828f0"/>
<circle cx="126.22" cy="339.15" r="3.1" fill="#2828f0"/>
<circle cx="133.59" cy="337.82" r="3.1" fill="#2828f0"/>
<circle cx="140.96" cy="337.82" r="3.1" fill="#2828f0"/>
<circle cx="148.34" cy="337.82" r="3.1" fill="#2828f0"/>
<circle cx="155.71" cy="337.82" r="3.1" fill="#2828f0"/>
<circle cx="163.08" cy="337.82" r="3.1" fill="#2828f0"/>
<circle cx="170.45" cy="337.82" r="3.1" fill="#2828f0"/>
<circle cx="177.82" cy="337.82" r="3.1" fill="#2828f0"/>
<circle cx="185.2" cy="337.82" r="3.1" fill="#2828f0"/>
<circle cx="192.57" cy="337.82" r="3.1" fill="#2828f0"/>
<circle cx="199.94" cy="337.82" r="3.1" fill="#2828f0"/>
<circle cx="207.31" cy="337.82" r="3.1" fill="#2828f0"/>
<circle cx="214.68" cy="337.82" r="3.1" fill="#2828f0"/>
<circle cx="222.06" cy="337.82" r="3.1" fill="#2828f0"/>
<circle cx="229.43" cy="337.82" r="3.1" fill="#2828f0"/>
<circle cx="236.8" cy="337.82" r="3.1" fill="#2828f0"/>
<path d="M52.5 348.24 L59.87 348.24 L67.24 348.24 L74.62 348.24 L81.99 348.24 L89.36 348.24 L96.73 348.24 L104.1 348.24 L111.48 348.24 L118.85 348.24 L126.22 341.81 L133.59 337.37 L140.96 338.04 L148.34 338.04 L155.71 338.04 L163.08 338.04 L170.45 338.04 L177.82 338.04 L185.2 338.04 L192.57 338.04 L199.94 338.04 L207.31 338.04 L214.68 338.04 L222.06 338.04 L229.43 338.04 L236.8 338.04" fill="none" stroke="#ff1414" stroke-width="1.3" stroke-linejoin="round"/>
<rect x="49.4" y="345.14" width="6.2" height="6.2" fill="#ff1414"/>
<rect x="56.77" y="345.14" width="6.2" height="6.2" fill="#ff1414"/>
<rect x="64.14" y="345.14" width="6.2" height="6.2" fill="#ff1414"/>
<rect x="71.52" y="345.14" width="6.2" height="6.2" fill="#ff1414"/>
<rect x="78.89" y="345.14" width="6.2" height="6.2" fill="#ff1414"/>
<rect x="86.26" y="345.14" width="6.2" height="6.2" fill="#ff1414"/>
<rect x="93.63" y="345.14" width="6.2" height="6.2" fill="#ff1414"/>
<rect x="101" y="345.14" width="6.2" height="6.2" fill="#ff1414"/>
<rect x="108.38" y="345.14" width="6.2" height="6.2" fill="#ff1414"/>
<rect x="115.75" y="345.14" width="6.2" height="6.2" fill="#ff1414"/>
<rect x="123.12" y="338.71" width="6.2" height="6.2" fill="#ff1414"/>
<rect x="130.49" y="334.27" width="6.2" height="6.2" fill="#ff1414"/>
<rect x="137.86" y="334.94" width="6.2" height="6.2" fill="#ff1414"/>
<rect x="145.24" y="334.94" width="6.2" height="6.2" fill="#ff1414"/>
<rect x="152.61" y="334.94" width="6.2" height="6.2" fill="#ff1414"/>
<rect x="159.98" y="334.94" width="6.2" height="6.2" fill="#ff1414"/>
<rect x="167.35" y="334.94" width="6.2" height="6.2" fill="#ff1414"/>
<rect x="174.72" y="334.94" width="6.2" height="6.2" fill="#ff1414"/>
<rect x="182.1" y="334.94" width="6.2" height="6.2" fill="#ff1414"/>
<rect x="189.47" y="334.94" width="6.2" height="6.2" fill="#ff1414"/>
<rect x="196.84" y="334.94" width="6.2" height="6.2" fill="#ff1414"/>
<rect x="204.21" y="334.94" width="6.2" height="6.2" fill="#ff1414"/>
<rect x="211.58" y="334.94" width="6.2" height="6.2" fill="#ff1414"/>
<rect x="218.96" y="334.94" width="6.2" height="6.2" fill="#ff1414"/>
<rect x="226.33" y="334.94" width="6.2" height="6.2" fill="#ff1414"/>
<rect x="233.7" y="334.94" width="6.2" height="6.2" fill="#ff1414"/>
<path d="M52.5 346.25 L59.87 346.69 L67.24 346.25 L74.62 346.69 L81.99 346.25 L89.36 346.69 L96.73 346.25 L104.1 346.69 L111.48 346.25 L118.85 346.69 L126.22 346.25 L133.59 342.92 L140.96 341.14 L148.34 341.14 L155.71 341.14 L163.08 341.14 L170.45 341.14 L177.82 341.14 L185.2 341.14 L192.57 341.14 L199.94 341.14 L207.31 341.14 L214.68 341.14 L222.06 341.14 L229.43 341.14 L236.8 341.14" fill="none" stroke="#4ea4f0" stroke-width="1.2" stroke-linejoin="round"/>
<path d="M52.5 342.64L55.9 346.25L52.5 349.85L49.1 346.25Z" fill="#4ea4f0"/>
<path d="M59.87 343.09L63.27 346.69L59.87 350.29L56.47 346.69Z" fill="#4ea4f0"/>
<path d="M67.24 342.64L70.64 346.25L67.24 349.85L63.84 346.25Z" fill="#4ea4f0"/>
<path d="M74.62 343.09L78.02 346.69L74.62 350.29L71.22 346.69Z" fill="#4ea4f0"/>
<path d="M81.99 342.64L85.39 346.25L81.99 349.85L78.59 346.25Z" fill="#4ea4f0"/>
<path d="M89.36 343.09L92.76 346.69L89.36 350.29L85.96 346.69Z" fill="#4ea4f0"/>
<path d="M96.73 342.64L100.13 346.25L96.73 349.85L93.33 346.25Z" fill="#4ea4f0"/>
<path d="M104.1 343.09L107.5 346.69L104.1 350.29L100.7 346.69Z" fill="#4ea4f0"/>
<path d="M111.48 342.64L114.88 346.25L111.48 349.85L108.08 346.25Z" fill="#4ea4f0"/>
<path d="M118.85 343.09L122.25 346.69L118.85 350.29L115.45 346.69Z" fill="#4ea4f0"/>
<path d="M126.22 342.64L129.62 346.25L126.22 349.85L122.82 346.25Z" fill="#4ea4f0"/>
<path d="M133.59 339.32L136.99 342.92L133.59 346.52L130.19 342.92Z" fill="#4ea4f0"/>
<path d="M140.96 337.54L144.36 341.14L140.96 344.74L137.56 341.14Z" fill="#4ea4f0"/>
<path d="M148.34 337.54L151.74 341.14L148.34 344.74L144.94 341.14Z" fill="#4ea4f0"/>
<path d="M155.71 337.54L159.11 341.14L155.71 344.74L152.31 341.14Z" fill="#4ea4f0"/>
<path d="M163.08 337.54L166.48 341.14L163.08 344.74L159.68 341.14Z" fill="#4ea4f0"/>
<path d="M170.45 337.54L173.85 341.14L170.45 344.74L167.05 341.14Z" fill="#4ea4f0"/>
<path d="M177.82 337.54L181.22 341.14L177.82 344.74L174.42 341.14Z" fill="#4ea4f0"/>
<path d="M185.2 337.54L188.6 341.14L185.2 344.74L181.8 341.14Z" fill="#4ea4f0"/>
<path d="M192.57 337.54L195.97 341.14L192.57 344.74L189.17 341.14Z" fill="#4ea4f0"/>
<path d="M199.94 337.54L203.34 341.14L199.94 344.74L196.54 341.14Z" fill="#4ea4f0"/>
<path d="M207.31 337.54L210.71 341.14L207.31 344.74L203.91 341.14Z" fill="#4ea4f0"/>
<path d="M214.68 337.54L218.08 341.14L214.68 344.74L211.28 341.14Z" fill="#4ea4f0"/>
<path d="M222.06 337.54L225.46 341.14L222.06 344.74L218.66 341.14Z" fill="#4ea4f0"/>
<path d="M229.43 337.54L232.83 341.14L229.43 344.74L226.03 341.14Z" fill="#4ea4f0"/>
<path d="M236.8 337.54L240.2 341.14L236.8 344.74L233.4 341.14Z" fill="#4ea4f0"/>
<path d="M52.5 347.35 L59.87 347.35 L67.24 347.35 L74.62 347.35 L81.99 347.35 L89.36 347.35 L96.73 347.35 L104.1 347.35 L111.48 347.35 L118.85 347.35 L126.22 347.35 L133.59 342.92 L140.96 339.81 L148.34 339.81 L155.71 339.81 L163.08 339.81 L170.45 339.81 L177.82 339.81 L185.2 339.81 L192.57 339.81 L199.94 339.81 L207.31 339.81 L214.68 339.81 L222.06 339.81 L229.43 339.81 L236.8 339.81" fill="none" stroke="#f58e94" stroke-width="1.2" stroke-linejoin="round"/>
<circle cx="52.5" cy="347.35" r="2.9" fill="#f58e94"/>
<circle cx="59.87" cy="347.35" r="2.9" fill="#f58e94"/>
<circle cx="67.24" cy="347.35" r="2.9" fill="#f58e94"/>
<circle cx="74.62" cy="347.35" r="2.9" fill="#f58e94"/>
<circle cx="81.99" cy="347.35" r="2.9" fill="#f58e94"/>
<circle cx="89.36" cy="347.35" r="2.9" fill="#f58e94"/>
<circle cx="96.73" cy="347.35" r="2.9" fill="#f58e94"/>
<circle cx="104.1" cy="347.35" r="2.9" fill="#f58e94"/>
<circle cx="111.48" cy="347.35" r="2.9" fill="#f58e94"/>
<circle cx="118.85" cy="347.35" r="2.9" fill="#f58e94"/>
<circle cx="126.22" cy="347.35" r="2.9" fill="#f58e94"/>
<circle cx="133.59" cy="342.92" r="2.9" fill="#f58e94"/>
<circle cx="140.96" cy="339.81" r="2.9" fill="#f58e94"/>
<circle cx="148.34" cy="339.81" r="2.9" fill="#f58e94"/>
<circle cx="155.71" cy="339.81" r="2.9" fill="#f58e94"/>
<circle cx="163.08" cy="339.81" r="2.9" fill="#f58e94"/>
<circle cx="170.45" cy="339.81" r="2.9" fill="#f58e94"/>
<circle cx="177.82" cy="339.81" r="2.9" fill="#f58e94"/>
<circle cx="185.2" cy="339.81" r="2.9" fill="#f58e94"/>
<circle cx="192.57" cy="339.81" r="2.9" fill="#f58e94"/>
<circle cx="199.94" cy="339.81" r="2.9" fill="#f58e94"/>
<circle cx="207.31" cy="339.81" r="2.9" fill="#f58e94"/>
<circle cx="214.68" cy="339.81" r="2.9" fill="#f58e94"/>
<circle cx="222.06" cy="339.81" r="2.9" fill="#f58e94"/>
<circle cx="229.43" cy="339.81" r="2.9" fill="#f58e94"/>
<circle cx="236.8" cy="339.81" r="2.9" fill="#f58e94"/>
</g>
<text x="144.95" y="382.9" font-size="10.3" text-anchor="middle"><tspan font-style="italic">T</tspan> (<tspan dx="0.7" font-size="11">°</tspan>C)</text>
<text transform="translate(16.4 285.75) rotate(-90)" font-size="10.5" text-anchor="middle"><tspan font-style="italic">D</tspan><tspan font-style="italic" font-size="8.3" dy="2.7">H</tspan><tspan dy="-2.7"> (nm)</tspan></text>
<text class="cap" x="135.85" y="408.7" font-size="13.5" text-anchor="middle"><tspan font-weight="normal" stroke-width="0" font-size="15">(</tspan>c<tspan font-weight="normal" stroke-width="0" font-size="15">)</tspan></text>
<clipPath id="clipd"><rect x="344.9" y="219.6" width="201.2" height="139.2"/></clipPath>
<path d="M344.9 219.6V353.65 M344.05 352.8H544.1" stroke="#1c1c1c" stroke-width="1.7" fill="none"/>
<text transform="matrix(0.93 0 0 1 339.4 357)" font-size="10" text-anchor="end">0</text>
<text transform="matrix(0.93 0 0 1 339.4 312.6)" font-size="10" text-anchor="end">200</text>
<text transform="matrix(0.93 0 0 1 339.4 268.2)" font-size="10" text-anchor="end">400</text>
<text transform="matrix(0.93 0 0 1 339.4 223.8)" font-size="10" text-anchor="end">600</text>
<text transform="matrix(0.93 0 0 1 352.1 367.4)" font-size="10" text-anchor="middle">25</text>
<text transform="matrix(0.93 0 0 1 388.96 367.4)" font-size="10" text-anchor="middle">30</text>
<text transform="matrix(0.93 0 0 1 425.82 367.4)" font-size="10" text-anchor="middle">35</text>
<text transform="matrix(0.93 0 0 1 462.68 367.4)" font-size="10" text-anchor="middle">40</text>
<text transform="matrix(0.93 0 0 1 499.54 367.4)" font-size="10" text-anchor="middle">45</text>
<text transform="matrix(0.93 0 0 1 536.4 367.4)" font-size="10" text-anchor="middle">50</text>
<path d="M340.7 352.8H344.9 M340.7 308.4H344.9 M340.7 264H344.9 M340.7 219.6H344.9 M352.1 352.8V357.4 M388.96 352.8V357.4 M425.82 352.8V357.4 M462.68 352.8V357.4 M499.54 352.8V357.4 M536.4 352.8V357.4" stroke="#1c1c1c" stroke-width="1.6" fill="none"/>
<g clip-path="url(#clipd)">
<path d="M352.1 351.69 L359.47 351.69 L366.84 320.61 L374.22 351.69 L381.59 351.69 L388.96 351.69 L396.33 351.69 L403.7 351.69 L411.08 269.77 L418.45 270.22 L425.82 308.4 L433.19 315.95 L440.56 312.4 L447.94 310.18 L455.31 310.18 L462.68 315.95 L470.05 314.84 L477.42 315.95 L484.8 316.61 L492.17 317.28 L499.54 315.95 L506.91 306.85 L514.28 315.5 L521.66 319.94 L529.03 314.84 L536.4 316.61" fill="none" stroke="#16168e" stroke-width="1.35" stroke-linejoin="round"/>
<path d="M366.84 320.61V294.86 M363.44 294.86H370.24" stroke="#16168e" stroke-width="1.5" fill="none"/>
<path d="M411.08 269.77V236.25 M407.68 236.25H414.48" stroke="#16168e" stroke-width="1.5" fill="none"/>
<path d="M418.45 270.22V254.9 M415.05 254.9H421.85" stroke="#16168e" stroke-width="1.5" fill="none"/>
<path d="M352.1 355.09L355.4 349.19L348.8 349.19Z" fill="#16168e"/>
<path d="M359.47 355.09L362.77 349.19L356.17 349.19Z" fill="#16168e"/>
<path d="M366.84 324.01L370.14 318.11L363.54 318.11Z" fill="#16168e"/>
<path d="M374.22 355.09L377.52 349.19L370.92 349.19Z" fill="#16168e"/>
<path d="M381.59 355.09L384.89 349.19L378.29 349.19Z" fill="#16168e"/>
<path d="M388.96 355.09L392.26 349.19L385.66 349.19Z" fill="#16168e"/>
<path d="M396.33 355.09L399.63 349.19L393.03 349.19Z" fill="#16168e"/>
<path d="M403.7 355.09L407 349.19L400.4 349.19Z" fill="#16168e"/>
<path d="M411.08 273.17L414.38 267.27L407.78 267.27Z" fill="#16168e"/>
<path d="M418.45 273.62L421.75 267.72L415.15 267.72Z" fill="#16168e"/>
<path d="M425.82 311.8L429.12 305.9L422.52 305.9Z" fill="#16168e"/>
<path d="M433.19 319.35L436.49 313.45L429.89 313.45Z" fill="#16168e"/>
<path d="M440.56 315.8L443.86 309.9L437.26 309.9Z" fill="#16168e"/>
<path d="M447.94 313.58L451.24 307.68L444.64 307.68Z" fill="#16168e"/>
<path d="M455.31 313.58L458.61 307.68L452.01 307.68Z" fill="#16168e"/>
<path d="M462.68 319.35L465.98 313.45L459.38 313.45Z" fill="#16168e"/>
<path d="M470.05 318.24L473.35 312.34L466.75 312.34Z" fill="#16168e"/>
<path d="M477.42 319.35L480.72 313.45L474.12 313.45Z" fill="#16168e"/>
<path d="M484.8 320.01L488.1 314.11L481.5 314.11Z" fill="#16168e"/>
<path d="M492.17 320.68L495.47 314.78L488.87 314.78Z" fill="#16168e"/>
<path d="M499.54 319.35L502.84 313.45L496.24 313.45Z" fill="#16168e"/>
<path d="M506.91 310.25L510.21 304.35L503.61 304.35Z" fill="#16168e"/>
<path d="M514.28 318.9L517.58 313L510.98 313Z" fill="#16168e"/>
<path d="M521.66 323.34L524.96 317.44L518.36 317.44Z" fill="#16168e"/>
<path d="M529.03 318.24L532.33 312.34L525.73 312.34Z" fill="#16168e"/>
<path d="M536.4 320.01L539.7 314.11L533.1 314.11Z" fill="#16168e"/>
<path d="M352.1 342.81 L359.47 342.81 L366.84 342.81 L374.22 342.81 L381.59 342.81 L388.96 342.81 L396.33 342.81 L403.7 342.81 L411.08 342.81 L418.45 297.74 L425.82 302.18 L433.19 306.85 L440.56 312.4 L447.94 313.51 L455.31 313.51 L462.68 313.51 L470.05 315.06 L477.42 315.95 L484.8 317.06 L492.17 317.28 L499.54 319.94 L506.91 321.5 L514.28 315.95 L521.66 316.61 L529.03 316.17 L536.4 317.28" fill="none" stroke="#cc1420" stroke-width="1.35" stroke-linejoin="round"/>
<path d="M506.91 321.5V317.28 M503.51 317.28H510.31" stroke="#cc1420" stroke-width="1.5" fill="none"/>
<path d="M352.1 339.41L355.4 345.31L348.8 345.31Z" fill="#cc1420"/>
<path d="M359.47 339.41L362.77 345.31L356.17 345.31Z" fill="#cc1420"/>
<path d="M366.84 339.41L370.14 345.31L363.54 345.31Z" fill="#cc1420"/>
<path d="M374.22 339.41L377.52 345.31L370.92 345.31Z" fill="#cc1420"/>
<path d="M381.59 339.41L384.89 345.31L378.29 345.31Z" fill="#cc1420"/>
<path d="M388.96 339.41L392.26 345.31L385.66 345.31Z" fill="#cc1420"/>
<path d="M396.33 339.41L399.63 345.31L393.03 345.31Z" fill="#cc1420"/>
<path d="M403.7 339.41L407 345.31L400.4 345.31Z" fill="#cc1420"/>
<path d="M411.08 339.41L414.38 345.31L407.78 345.31Z" fill="#cc1420"/>
<path d="M418.45 294.34L421.75 300.24L415.15 300.24Z" fill="#cc1420"/>
<path d="M425.82 298.78L429.12 304.68L422.52 304.68Z" fill="#cc1420"/>
<path d="M433.19 303.45L436.49 309.35L429.89 309.35Z" fill="#cc1420"/>
<path d="M440.56 309L443.86 314.9L437.26 314.9Z" fill="#cc1420"/>
<path d="M447.94 310.11L451.24 316.01L444.64 316.01Z" fill="#cc1420"/>
<path d="M455.31 310.11L458.61 316.01L452.01 316.01Z" fill="#cc1420"/>
<path d="M462.68 310.11L465.98 316.01L459.38 316.01Z" fill="#cc1420"/>
<path d="M470.05 311.66L473.35 317.56L466.75 317.56Z" fill="#cc1420"/>
<path d="M477.42 312.55L480.72 318.45L474.12 318.45Z" fill="#cc1420"/>
<path d="M484.8 313.66L488.1 319.56L481.5 319.56Z" fill="#cc1420"/>
<path d="M492.17 313.88L495.47 319.78L488.87 319.78Z" fill="#cc1420"/>
<path d="M499.54 316.54L502.84 322.44L496.24 322.44Z" fill="#cc1420"/>
<path d="M506.91 318.1L510.21 324L503.61 324Z" fill="#cc1420"/>
<path d="M514.28 312.55L517.58 318.45L510.98 318.45Z" fill="#cc1420"/>
<path d="M521.66 313.21L524.96 319.11L518.36 319.11Z" fill="#cc1420"/>
<path d="M529.03 312.77L532.33 318.67L525.73 318.67Z" fill="#cc1420"/>
<path d="M536.4 313.88L539.7 319.78L533.1 319.78Z" fill="#cc1420"/>
<path d="M352.1 345.03 L359.47 345.03 L366.84 345.03 L374.22 345.03 L381.59 345.03 L388.96 345.03 L396.33 345.03 L403.7 345.03 L411.08 345.03 L418.45 331.49 L425.82 329.93 L433.19 331.27 L440.56 331.27 L447.94 331.27 L455.31 331.27 L462.68 331.27 L470.05 331.27 L477.42 331.27 L484.8 331.27 L492.17 331.27 L499.54 331.27 L506.91 331.27 L514.28 331.27 L521.66 331.27 L529.03 331.27 L536.4 331.27" fill="none" stroke="#2828f0" stroke-width="1.3" stroke-linejoin="round"/>
<circle cx="352.1" cy="345.03" r="3.1" fill="#2828f0"/>
<circle cx="359.47" cy="345.03" r="3.1" fill="#2828f0"/>
<circle cx="366.84" cy="345.03" r="3.1" fill="#2828f0"/>
<circle cx="374.22" cy="345.03" r="3.1" fill="#2828f0"/>
<circle cx="381.59" cy="345.03" r="3.1" fill="#2828f0"/>
<circle cx="388.96" cy="345.03" r="3.1" fill="#2828f0"/>
<circle cx="396.33" cy="345.03" r="3.1" fill="#2828f0"/>
<circle cx="403.7" cy="345.03" r="3.1" fill="#2828f0"/>
<circle cx="411.08" cy="345.03" r="3.1" fill="#2828f0"/>
<circle cx="418.45" cy="331.49" r="3.1" fill="#2828f0"/>
<circle cx="425.82" cy="329.93" r="3.1" fill="#2828f0"/>
<circle cx="433.19" cy="331.27" r="3.1" fill="#2828f0"/>
<circle cx="440.56" cy="331.27" r="3.1" fill="#2828f0"/>
<circle cx="447.94" cy="331.27" r="3.1" fill="#2828f0"/>
<circle cx="455.31" cy="331.27" r="3.1" fill="#2828f0"/>
<circle cx="462.68" cy="331.27" r="3.1" fill="#2828f0"/>
<circle cx="470.05" cy="331.27" r="3.1" fill="#2828f0"/>
<circle cx="477.42" cy="331.27" r="3.1" fill="#2828f0"/>
<circle cx="484.8" cy="331.27" r="3.1" fill="#2828f0"/>
<circle cx="492.17" cy="331.27" r="3.1" fill="#2828f0"/>
<circle cx="499.54" cy="331.27" r="3.1" fill="#2828f0"/>
<circle cx="506.91" cy="331.27" r="3.1" fill="#2828f0"/>
<circle cx="514.28" cy="331.27" r="3.1" fill="#2828f0"/>
<circle cx="521.66" cy="331.27" r="3.1" fill="#2828f0"/>
<circle cx="529.03" cy="331.27" r="3.1" fill="#2828f0"/>
<circle cx="536.4" cy="331.27" r="3.1" fill="#2828f0"/>
<path d="M352.1 346.14 L359.47 346.14 L366.84 346.14 L374.22 346.14 L381.59 346.14 L388.96 346.14 L396.33 346.14 L403.7 346.14 L411.08 346.14 L418.45 337.93 L425.82 332.82 L433.19 330.82 L440.56 331.04 L447.94 331.04 L455.31 331.27 L462.68 331.04 L470.05 331.27 L477.42 331.04 L484.8 331.27 L492.17 331.04 L499.54 331.27 L506.91 331.04 L514.28 331.27 L521.66 331.04 L529.03 331.27 L536.4 331.27" fill="none" stroke="#ff1414" stroke-width="1.3" stroke-linejoin="round"/>
<rect x="349" y="343.04" width="6.2" height="6.2" fill="#ff1414"/>
<rect x="356.37" y="343.04" width="6.2" height="6.2" fill="#ff1414"/>
<rect x="363.74" y="343.04" width="6.2" height="6.2" fill="#ff1414"/>
<rect x="371.12" y="343.04" width="6.2" height="6.2" fill="#ff1414"/>
<rect x="378.49" y="343.04" width="6.2" height="6.2" fill="#ff1414"/>
<rect x="385.86" y="343.04" width="6.2" height="6.2" fill="#ff1414"/>
<rect x="393.23" y="343.04" width="6.2" height="6.2" fill="#ff1414"/>
<rect x="400.6" y="343.04" width="6.2" height="6.2" fill="#ff1414"/>
<rect x="407.98" y="343.04" width="6.2" height="6.2" fill="#ff1414"/>
<rect x="415.35" y="334.83" width="6.2" height="6.2" fill="#ff1414"/>
<rect x="422.72" y="329.72" width="6.2" height="6.2" fill="#ff1414"/>
<rect x="430.09" y="327.72" width="6.2" height="6.2" fill="#ff1414"/>
<rect x="437.46" y="327.94" width="6.2" height="6.2" fill="#ff1414"/>
<rect x="444.84" y="327.94" width="6.2" height="6.2" fill="#ff1414"/>
<rect x="452.21" y="328.17" width="6.2" height="6.2" fill="#ff1414"/>
<rect x="459.58" y="327.94" width="6.2" height="6.2" fill="#ff1414"/>
<rect x="466.95" y="328.17" width="6.2" height="6.2" fill="#ff1414"/>
<rect x="474.32" y="327.94" width="6.2" height="6.2" fill="#ff1414"/>
<rect x="481.7" y="328.17" width="6.2" height="6.2" fill="#ff1414"/>
<rect x="489.07" y="327.94" width="6.2" height="6.2" fill="#ff1414"/>
<rect x="496.44" y="328.17" width="6.2" height="6.2" fill="#ff1414"/>
<rect x="503.81" y="327.94" width="6.2" height="6.2" fill="#ff1414"/>
<rect x="511.18" y="328.17" width="6.2" height="6.2" fill="#ff1414"/>
<rect x="518.56" y="327.94" width="6.2" height="6.2" fill="#ff1414"/>
<rect x="525.93" y="328.17" width="6.2" height="6.2" fill="#ff1414"/>
<rect x="533.3" y="328.17" width="6.2" height="6.2" fill="#ff1414"/>
<path d="M352.1 344.81 L359.47 344.81 L366.84 344.81 L374.22 344.81 L381.59 344.81 L388.96 344.81 L396.33 344.81 L403.7 344.81 L411.08 344.81 L418.45 344.81 L425.82 342.81 L433.19 341.7 L440.56 341.48 L447.94 341.48 L455.31 341.48 L462.68 341.48 L470.05 341.48 L477.42 341.48 L484.8 341.48 L492.17 341.48 L499.54 341.48 L506.91 341.48 L514.28 341.48 L521.66 341.48 L529.03 341.48 L536.4 341.48" fill="none" stroke="#4ea4f0" stroke-width="1.2" stroke-linejoin="round"/>
<path d="M352.1 341.21L355.5 344.81L352.1 348.41L348.7 344.81Z" fill="#4ea4f0"/>
<path d="M359.47 341.21L362.87 344.81L359.47 348.41L356.07 344.81Z" fill="#4ea4f0"/>
<path d="M366.84 341.21L370.24 344.81L366.84 348.41L363.44 344.81Z" fill="#4ea4f0"/>
<path d="M374.22 341.21L377.62 344.81L374.22 348.41L370.82 344.81Z" fill="#4ea4f0"/>
<path d="M381.59 341.21L384.99 344.81L381.59 348.41L378.19 344.81Z" fill="#4ea4f0"/>
<path d="M388.96 341.21L392.36 344.81L388.96 348.41L385.56 344.81Z" fill="#4ea4f0"/>
<path d="M396.33 341.21L399.73 344.81L396.33 348.41L392.93 344.81Z" fill="#4ea4f0"/>
<path d="M403.7 341.21L407.1 344.81L403.7 348.41L400.3 344.81Z" fill="#4ea4f0"/>
<path d="M411.08 341.21L414.48 344.81L411.08 348.41L407.68 344.81Z" fill="#4ea4f0"/>
<path d="M418.45 341.21L421.85 344.81L418.45 348.41L415.05 344.81Z" fill="#4ea4f0"/>
<path d="M425.82 339.21L429.22 342.81L425.82 346.41L422.42 342.81Z" fill="#4ea4f0"/>
<path d="M433.19 338.1L436.59 341.7L433.19 345.3L429.79 341.7Z" fill="#4ea4f0"/>
<path d="M440.56 337.88L443.96 341.48L440.56 345.08L437.16 341.48Z" fill="#4ea4f0"/>
<path d="M447.94 337.88L451.34 341.48L447.94 345.08L444.54 341.48Z" fill="#4ea4f0"/>
<path d="M455.31 337.88L458.71 341.48L455.31 345.08L451.91 341.48Z" fill="#4ea4f0"/>
<path d="M462.68 337.88L466.08 341.48L462.68 345.08L459.28 341.48Z" fill="#4ea4f0"/>
<path d="M470.05 337.88L473.45 341.48L470.05 345.08L466.65 341.48Z" fill="#4ea4f0"/>
<path d="M477.42 337.88L480.82 341.48L477.42 345.08L474.02 341.48Z" fill="#4ea4f0"/>
<path d="M484.8 337.88L488.2 341.48L484.8 345.08L481.4 341.48Z" fill="#4ea4f0"/>
<path d="M492.17 337.88L495.57 341.48L492.17 345.08L488.77 341.48Z" fill="#4ea4f0"/>
<path d="M499.54 337.88L502.94 341.48L499.54 345.08L496.14 341.48Z" fill="#4ea4f0"/>
<path d="M506.91 337.88L510.31 341.48L506.91 345.08L503.51 341.48Z" fill="#4ea4f0"/>
<path d="M514.28 337.88L517.68 341.48L514.28 345.08L510.88 341.48Z" fill="#4ea4f0"/>
<path d="M521.66 337.88L525.06 341.48L521.66 345.08L518.26 341.48Z" fill="#4ea4f0"/>
<path d="M529.03 337.88L532.43 341.48L529.03 345.08L525.63 341.48Z" fill="#4ea4f0"/>
<path d="M536.4 337.88L539.8 341.48L536.4 345.08L533 341.48Z" fill="#4ea4f0"/>
<path d="M352.1 346.14 L359.47 346.14 L366.84 346.14 L374.22 346.14 L381.59 346.14 L388.96 346.14 L396.33 346.14 L403.7 346.14 L411.08 346.14 L418.45 345.47 L425.82 344.81 L433.19 342.37 L440.56 341.7 L447.94 341.7 L455.31 341.7 L462.68 341.7 L470.05 341.7 L477.42 341.7 L484.8 341.7 L492.17 341.7 L499.54 341.7 L506.91 341.7 L514.28 341.7 L521.66 341.7 L529.03 341.7 L536.4 341.7" fill="none" stroke="#f58e94" stroke-width="1.2" stroke-linejoin="round"/>
<circle cx="352.1" cy="346.14" r="2.9" fill="#f58e94"/>
<circle cx="359.47" cy="346.14" r="2.9" fill="#f58e94"/>
<circle cx="366.84" cy="346.14" r="2.9" fill="#f58e94"/>
<circle cx="374.22" cy="346.14" r="2.9" fill="#f58e94"/>
<circle cx="381.59" cy="346.14" r="2.9" fill="#f58e94"/>
<circle cx="388.96" cy="346.14" r="2.9" fill="#f58e94"/>
<circle cx="396.33" cy="346.14" r="2.9" fill="#f58e94"/>
<circle cx="403.7" cy="346.14" r="2.9" fill="#f58e94"/>
<circle cx="411.08" cy="346.14" r="2.9" fill="#f58e94"/>
<circle cx="418.45" cy="345.47" r="2.9" fill="#f58e94"/>
<circle cx="425.82" cy="344.81" r="2.9" fill="#f58e94"/>
<circle cx="433.19" cy="342.37" r="2.9" fill="#f58e94"/>
<circle cx="440.56" cy="341.7" r="2.9" fill="#f58e94"/>
<circle cx="447.94" cy="341.7" r="2.9" fill="#f58e94"/>
<circle cx="455.31" cy="341.7" r="2.9" fill="#f58e94"/>
<circle cx="462.68" cy="341.7" r="2.9" fill="#f58e94"/>
<circle cx="470.05" cy="341.7" r="2.9" fill="#f58e94"/>
<circle cx="477.42" cy="341.7" r="2.9" fill="#f58e94"/>
<circle cx="484.8" cy="341.7" r="2.9" fill="#f58e94"/>
<circle cx="492.17" cy="341.7" r="2.9" fill="#f58e94"/>
<circle cx="499.54" cy="341.7" r="2.9" fill="#f58e94"/>
<circle cx="506.91" cy="341.7" r="2.9" fill="#f58e94"/>
<circle cx="514.28" cy="341.7" r="2.9" fill="#f58e94"/>
<circle cx="521.66" cy="341.7" r="2.9" fill="#f58e94"/>
<circle cx="529.03" cy="341.7" r="2.9" fill="#f58e94"/>
<circle cx="536.4" cy="341.7" r="2.9" fill="#f58e94"/>
</g>
<text x="444.55" y="382.8" font-size="10.3" text-anchor="middle"><tspan font-style="italic">T</tspan> (<tspan dx="0.7" font-size="11">°</tspan>C)</text>
<text transform="translate(315.7 285.6) rotate(-90)" font-size="10.5" text-anchor="middle"><tspan font-style="italic">D</tspan><tspan font-style="italic" font-size="8.3" dy="2.7">H</tspan><tspan dy="-2.7"> (nm)</tspan></text>
<text class="cap" x="435.45" y="408.6" font-size="13.5" text-anchor="middle"><tspan font-weight="normal" stroke-width="0" font-size="15">(</tspan>d<tspan font-weight="normal" stroke-width="0" font-size="15">)</tspan></text>
</svg></body></html>
